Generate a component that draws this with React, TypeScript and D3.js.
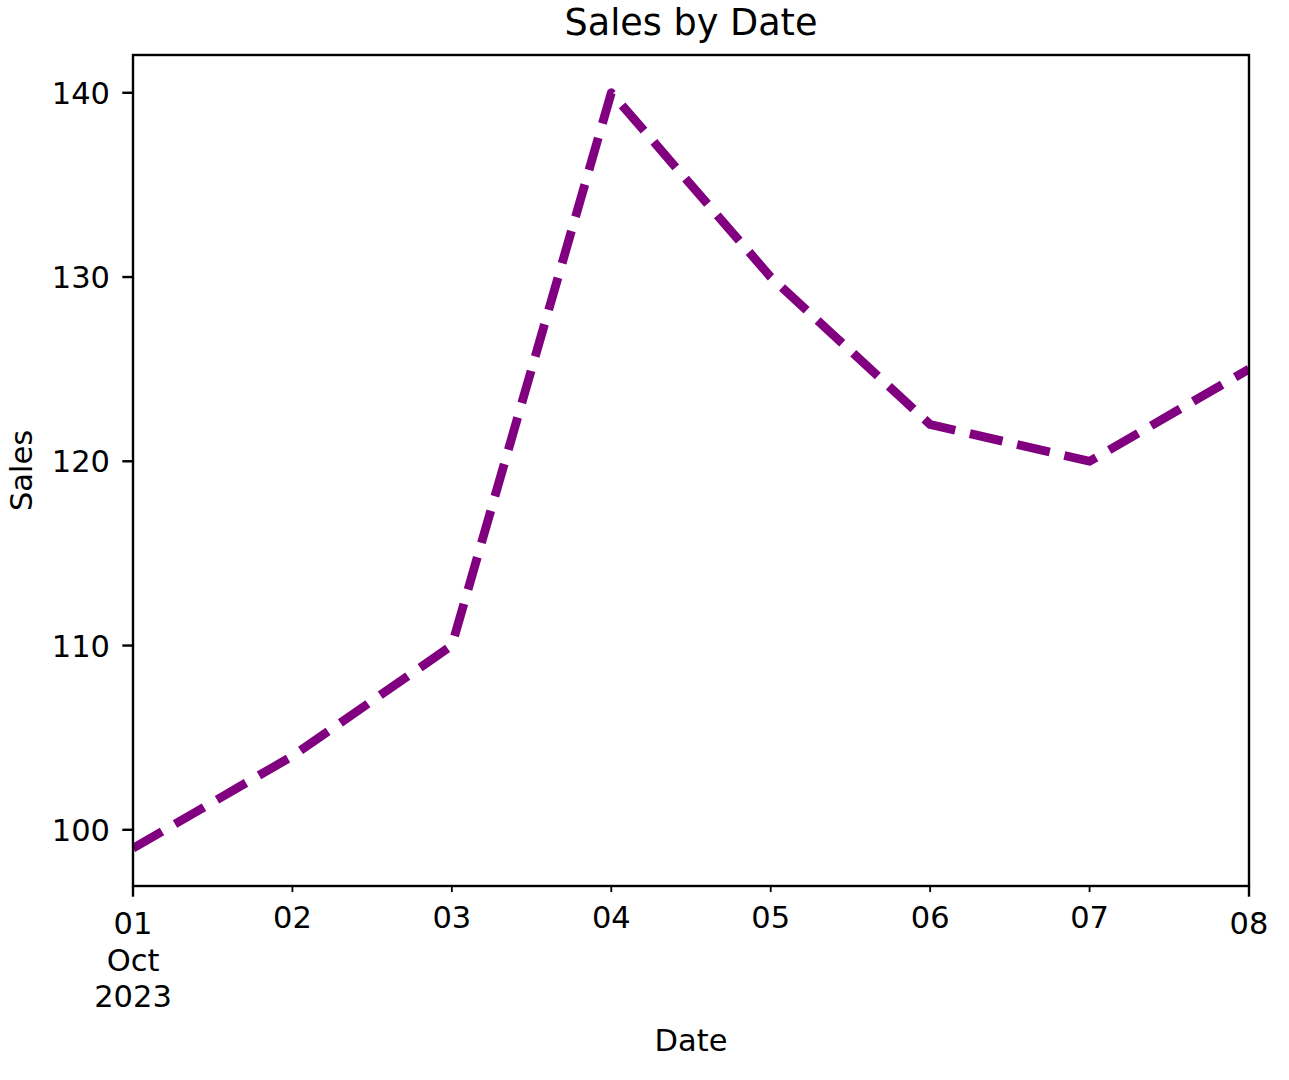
import { useEffect } from "react"
import * as d3 from "d3"

const dates = ["2023-10-01", "2023-10-02", "2023-10-03", "2023-10-04", "2023-10-05", "2023-10-06", "2023-10-07", "2023-10-08"]
const sales = [99, 104, 110, 140, 130, 122, 120, 125]
const yTicks = [100, 110, 120, 130, 140]
const majorTicks = ["2023-10-01", "2023-10-08"]

const W = 1289
const H = 1080
const m = { left: 133, right: 1249, top: 55, bottom: 886 }
const FONT = "DejaVu Sans, sans-serif"
const fs = 30.5

export default function App() {
  useEffect(() => {
    document.body.style.margin = "0"
  }, [])

  const parsed = dates.map((d) => new Date(d + "T00:00:00Z"))
  const data = parsed.map((d, i) => ({ date: d, value: sales[i] }))

  const x = d3.scaleUtc().domain(d3.extent(parsed) as [Date, Date]).range([m.left, m.right])
  // 5% margin like matplotlib
  const pad = (d3.max(sales)! - d3.min(sales)!) * 0.05
  const y = d3
    .scaleLinear()
    .domain([d3.min(sales)! - pad, d3.max(sales)! + pad])
    .range([m.bottom, m.top])

  const line = d3
    .line<{ date: Date; value: number }>()
    .x((d) => x(d.date))
    .y((d) => y(d.value))
    .curve(d3.curveLinear)

  const majorSet = new Set(majorTicks)
  const fmtDay = d3.utcFormat("%d")

  return (
    <svg width={W} height={H} viewBox={`0 0 ${W} ${H}`} style={{ display: "block", background: "#fff" }}>
      <defs>
        <clipPath id="plot-clip">
          <rect x={m.left} y={m.top} width={m.right - m.left} height={m.bottom - m.top} />
        </clipPath>
      </defs>
      <rect width={W} height={H} fill="#fff" />

      {/* data line */}
      <path
        d={line(data) ?? ""}
        fill="none"
        stroke="#800080"
        strokeWidth={8.8}
        strokeDasharray="33.5 15"
        strokeLinecap="butt"
        strokeLinejoin="round"
        clipPath="url(#plot-clip)"
      />

      {/* y axis ticks */}
      {yTicks.map((t) => (
        <g key={t}>
          <line x1={m.left - 10.7} x2={m.left} y1={y(t)} y2={y(t)} stroke="#000" strokeWidth={2.4} />
          <text x={110} y={y(t)} dy="0.36em" textAnchor="end" fontFamily={FONT} fontSize={fs} fill="#000">
            {t}
          </text>
        </g>
      ))}

      {/* x axis ticks */}
      {dates.map((d, i) => {
        const px = x(parsed[i])
        const major = majorSet.has(d)
        return (
          <g key={d}>
            <line
              x1={px}
              x2={px}
              y1={m.bottom}
              y2={m.bottom + (major ? 10.7 : 6.1)}
              stroke="#000"
              strokeWidth={major ? 2.4 : 1.8}
            />
            <text x={px} y={major ? 934 : 928} textAnchor="middle" fontFamily={FONT} fontSize={fs} fill="#000">
              {fmtDay(parsed[i])}
            </text>
            {i === 0 && (
              <>
                <text x={px} y={970.5} textAnchor="middle" fontFamily={FONT} fontSize={fs} fill="#000">
                  {d3.utcFormat("%b")(parsed[i])}
                </text>
                <text x={px} y={1007} textAnchor="middle" fontFamily={FONT} fontSize={fs} fill="#000">
                  {d3.utcFormat("%Y")(parsed[i])}
                </text>
              </>
            )}
          </g>
        )
      })}

      {/* spines */}
      <rect
        x={m.left}
        y={m.top}
        width={m.right - m.left}
        height={m.bottom - m.top}
        fill="none"
        stroke="#000"
        strokeWidth={2.4}
      />

      {/* labels */}
      <text x={(m.left + m.right) / 2} y={35} textAnchor="middle" fontFamily={FONT} fontSize={36.6} fill="#000">
        Sales by Date
      </text>
      <text x={(m.left + m.right) / 2} y={1051} textAnchor="middle" fontFamily={FONT} fontSize={fs} fill="#000">
        Date
      </text>
      <text
        transform={`translate(32,${(m.top + m.bottom) / 2}) rotate(-90)`}
        textAnchor="middle"
        fontFamily={FONT}
        fontSize={fs}
        fill="#000"
      >
        Sales
      </text>
    </svg>
  )
}
